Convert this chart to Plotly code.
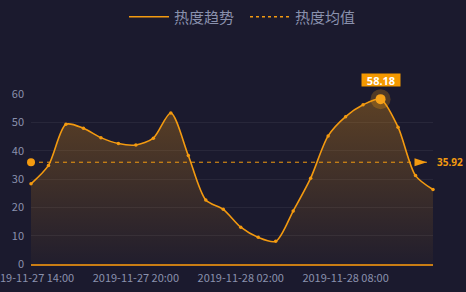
import plotly.graph_objects as go

times = [
    "2019-11-27 14:00", "2019-11-27 15:00", "2019-11-27 16:00", "2019-11-27 17:00",
    "2019-11-27 18:00", "2019-11-27 19:00", "2019-11-27 20:00", "2019-11-27 21:00",
    "2019-11-27 22:00", "2019-11-27 23:00", "2019-11-28 00:00", "2019-11-28 01:00",
    "2019-11-28 02:00", "2019-11-28 03:00", "2019-11-28 04:00", "2019-11-28 05:00",
    "2019-11-28 06:00", "2019-11-28 07:00", "2019-11-28 08:00", "2019-11-28 09:00",
    "2019-11-28 10:00", "2019-11-28 11:00", "2019-11-28 12:00", "2019-11-28 13:00",
]
heat = [28.3, 34.8, 49.3, 47.9, 44.6, 42.5, 42.0, 44.4, 53.3, 38.3, 22.6, 19.3,
        13.0, 9.4, 8.0, 18.7, 30.3, 45.2, 52.0, 56.2, 58.18, 48.3, 31.2, 26.3]
mean_value = 35.92
y_ticks = [0, 10, 20, 30, 40, 50, 60]
x_tick_idx = [0, 6, 12, 18]

LINE = "#f39a10"
BG = "#1b1a2e"
TXT = "#8a91ad"

xs = list(range(len(times)))
imax = heat.index(max(heat))

fig = go.Figure()

fig.add_trace(go.Scatter(
    x=xs, y=heat, mode="lines+markers", name="热度趋势", showlegend=False,
    line=dict(color=LINE, width=1.6, shape="spline", smoothing=0.8),
    marker=dict(size=3.5, color=LINE),
    fill="tozeroy",
    fillgradient=dict(type="vertical", start=0, stop=max(heat),
                      colorscale=[[0, "rgba(243,154,16,0.03)"], [1, "rgba(243,154,16,0.30)"]]),
    cliponaxis=False,
))

# legend entries
fig.add_trace(go.Scatter(
    x=[None], y=[None], mode="lines", name="热度趋势",
    line=dict(color=LINE, width=1.6),
))
fig.add_trace(go.Scatter(
    x=[None], y=[None], mode="lines", name="热度均值",
    line=dict(color=LINE, width=1.6, dash="dot"),
))

# mean line
mean_end = 22.65
fig.add_trace(go.Scatter(
    x=[0, mean_end], y=[mean_value, mean_value], mode="lines", showlegend=False,
    line=dict(color=LINE, width=1, dash="4px,4px"), cliponaxis=False,
))
fig.add_trace(go.Scatter(
    x=[0], y=[mean_value], mode="markers", showlegend=False,
    marker=dict(size=8, color=LINE), cliponaxis=False,
))
fig.add_trace(go.Scatter(
    x=[mean_end], y=[mean_value], mode="markers", showlegend=False,
    marker=dict(size=13, color=LINE, symbol="arrow", angle=90), cliponaxis=False,
))

# max point glow
fig.add_trace(go.Scatter(
    x=[xs[imax]], y=[heat[imax]], mode="markers", showlegend=False,
    marker=dict(size=20, color="rgba(243,154,16,0.25)"), cliponaxis=False,
))
fig.add_trace(go.Scatter(
    x=[xs[imax]], y=[heat[imax]], mode="markers", showlegend=False,
    marker=dict(size=10, color="#f7a21a"), cliponaxis=False,
))

fig.add_annotation(
    x=xs[imax], y=heat[imax], xref="x", yref="y", yshift=19,
    text="<b>%.2f</b>" % heat[imax], showarrow=False,
    bgcolor="#f39800", width=36, height=10, borderpad=1,
    font=dict(color="white", size=11, family="Noto Sans"),
)
fig.add_annotation(
    x=(450 - 31) / 402, y=mean_value, xref="paper", yref="y", xanchor="center",
    text="<b>%.2f</b>" % mean_value, showarrow=False,
    font=dict(color=LINE, size=10, family="Noto Sans"),
)

fig.update_layout(
    width=466, height=292,
    margin=dict(l=31, r=33, t=94, b=28, autoexpand=False),
    paper_bgcolor=BG, plot_bgcolor=BG,
    font=dict(family="Noto Sans CJK SC, Noto Sans", color=TXT, size=11),
    showlegend=True,
    legend=dict(orientation="h", x=(124 - 31) / 402, xanchor="left", y=1 + (94 - 17) / 170,
                yanchor="middle", entrywidth=66, entrywidthmode="pixels",
                font=dict(size=15, color=TXT, family="Noto Sans CJK SC"),
                bgcolor="rgba(0,0,0,0)", itemwidth=40),
    xaxis=dict(range=[0, len(times) - 1], tickvals=x_tick_idx,
               ticktext=[times[i] for i in x_tick_idx], ticklabeloverflow="allow",
               ticklabelstandoff=3,
               showgrid=False, zeroline=False, showline=True, linecolor="#c97d14", linewidth=1.5,
               ticks="", automargin=False, tickfont=dict(size=11, color=TXT), fixedrange=True),
    yaxis=dict(range=[0, 60], tickvals=y_ticks, showgrid=True, gridcolor="rgba(255,255,255,0.06)",
               zeroline=False, showline=False, ticks="", ticklabelstandoff=6,
               automargin=False, tickfont=dict(size=11, color=TXT)),
)

fig.write_html("out.html")
